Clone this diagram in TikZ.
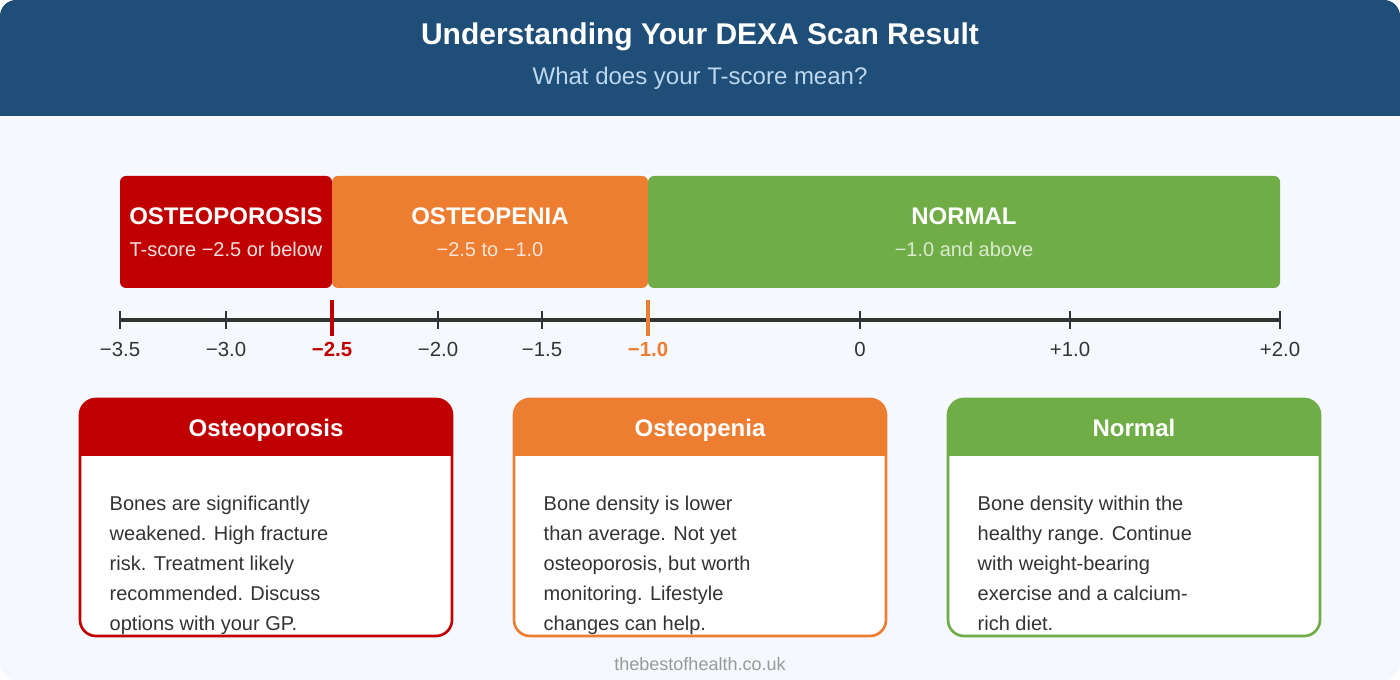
\documentclass[tikz,border=0pt]{standalone}
\usepackage{fontspec}
\setmainfont{Liberation Sans}
\definecolor{hdr}{HTML}{1F4E79}
\definecolor{sub}{HTML}{BDD7EE}
\definecolor{bg}{HTML}{F5F9FD}
\definecolor{red}{HTML}{C00000}
\definecolor{org}{HTML}{ED7D31}
\definecolor{grn}{HTML}{70AD47}
\definecolor{ax}{HTML}{333333}
\begin{document}
\begin{tikzpicture}[x=0.75pt,y=-0.75pt,
  band/.style={rounded corners=4.5pt},
  btitle/.style={text=white,anchor=base,font=\bfseries\fontsize{18}{20}\selectfont},
  bsub/.style={anchor=base,font=\fontsize{15}{18}\selectfont},
  tick/.style={ax,line width=2.2pt},
  tl/.style={text=ax,anchor=base,font=\fontsize{15.3}{18}\selectfont},
  ctitle/.style={text=white,anchor=base,font=\bfseries\fontsize{18}{20}\selectfont},
  body/.style={text=ax,align=left,anchor=north west,font=\fontsize{15}{22.5}\selectfont}]
\useasboundingbox (0,0) rectangle (1400,680);
\fill[bg,rounded corners=12pt] (0,0) rectangle (1400,680);
\fill[hdr,rounded corners=12pt] (0,0) rectangle (1400,60);
\fill[hdr] (0,40) rectangle (1400,116);
\node[text=white,anchor=base,font=\bfseries\fontsize{22.5}{26}\selectfont] (t) at (700,45) {Understanding Your DEXA Scan Result};
\node[text=sub,anchor=base,font=\fontsize{18}{22}\selectfont] (st) at (700,85) {What does your T-score mean?};
% bands
\fill[band,red] (120,176) rectangle (332,288);
\fill[band,org] (332,176) rectangle (648,288);
\fill[band,grn] (648,176) rectangle (1280,288);
\node[btitle] (b1) at (226,225) {OSTEOPOROSIS};
\node[bsub,text=white!88!red] (b1s) at (226,257) {T-score −2.5 or below};
\node[btitle] (b2) at (490,225) {OSTEOPENIA};
\node[bsub,text=white!80!org] (b2s) at (490,257) {−2.5 to −1.0};
\node[btitle] (b3) at (964,225) {NORMAL};
\node[bsub,text=white!75!grn] (b3s) at (964,257) {−1.0 and above};
% axis
\coordinate (a0) at (120,320); \coordinate (a1) at (1280,320);
\draw[ax,line width=3pt] (a0) -- (a1);
\foreach \x/\l in {120/−3.5,226/−3.0,438/−2.0,542/−1.5,860/0,1070/+1.0,1280/+2.0}{
  \draw[tick] (\x,311) -- (\x,329);
  \node[tl] at (\x,357) {\l};}
\draw[red,line width=3pt] (332,300) -- (332,336);
\node[tl,text=red,font=\bfseries\fontsize{15.3}{18}\selectfont] at (332,357) {−2.5};
\draw[org,line width=3pt] (648,300) -- (648,336);
\node[tl,text=org,font=\bfseries\fontsize{15.3}{18}\selectfont] at (648,357) {−1.0};
% cards
\foreach \x/\c/\t/\b in {
 80/red/Osteoporosis/{Bones are significantly\\weakened. High fracture\\risk. Treatment likely\\recommended. Discuss\\options with your GP.},
 514/org/Osteopenia/{Bone density is lower\\than average. Not yet\\osteoporosis, but worth\\monitoring. Lifestyle\\changes can help.},
 948/grn/Normal/{Bone density within the\\healthy range. Continue\\with weight-bearing\\exercise and a calcium-\\rich diet.}}{
  \fill[white,rounded corners=12pt] (\x,399) rectangle (\x+372,636);
  \begin{scope}
  \clip[rounded corners=12pt] (\x,399) rectangle (\x+372,636);
  \fill[\c] (\x,399) rectangle (\x+372,456);
  \end{scope}
  \draw[\c,line width=2pt,rounded corners=12pt] (\x,399) rectangle (\x+372,636);
  \node[ctitle] at (\x+186,437) {\t};
  \node[body] at (\x+25,491) {\b};
}
\node[text=gray!80,anchor=base,font=\fontsize{13.5}{15}\selectfont] (f) at (700,670) {thebestofhealth.co.uk};
\end{tikzpicture}
\end{document}
